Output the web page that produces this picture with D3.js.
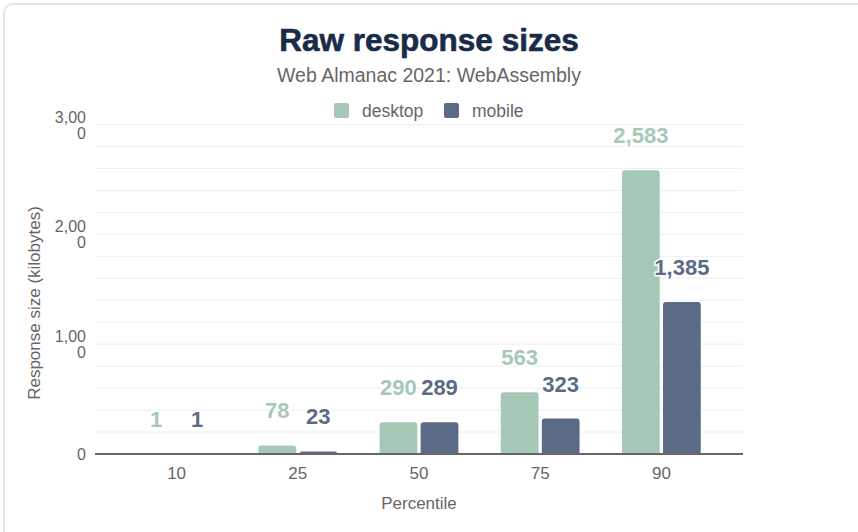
<!DOCTYPE html>
<html><head><meta charset="utf-8">
<script src="https://cdn.jsdelivr.net/npm/d3@7"></script>
<style>body{margin:0;background:#fff;}svg{display:block;font-family:"Liberation Sans",Arial,sans-serif;}</style>
</head><body>
<svg id="c" width="858" height="532"></svg>
<script>
const categories = ["10", "25", "50", "75", "90"];
const seriesNames = ["desktop", "mobile"];
const desktop = [1, 78, 290, 563, 2583];
const mobile = [1, 23, 289, 323, 1385];
const yTicks = [0, 1000, 2000, 3000];
const colors = {desktop: "#a5c8b7", mobile: "#5c6b85"};

const svg = d3.select("#c");
svg.append("rect").attr("x", 4).attr("y", 4).attr("width", 870).attr("height", 550)
  .attr("rx", 9).attr("fill", "#fff").attr("stroke", "#e4e4e4").attr("stroke-width", 2);

const pL = 95, pR = 743, pT = 124.5, pB = 454;
const x0 = d3.scaleBand().domain(categories).range([pL, pR]).paddingInner(0.35).paddingOuter(0.3485);
const x1 = d3.scaleBand().domain(seriesNames).range([0, x0.bandwidth()]).paddingInner(0.08);
const y = d3.scaleLinear().domain([0, 3000]).range([pB, pT]);

// title
svg.append("text").attr("x", 429).attr("y", 51).attr("text-anchor", "middle")
  .style("font-weight", "bold").style("font-size", "31.5px").attr("stroke", "#1a2b49").attr("stroke-width", 0.6)
  .attr("fill", "#1a2b49").text("Raw response sizes");
svg.append("text").attr("x", 429).attr("y", 82).attr("text-anchor", "middle")
  .style("font-size", "19.5px").attr("fill", "#666").text("Web Almanac 2021: WebAssembly");

// legend
const leg = [{k: "desktop", x: 334}, {k: "mobile", x: 444}];
leg.forEach(l => {
  svg.append("rect").attr("x", l.x).attr("y", 103).attr("width", 15).attr("height", 15).attr("rx", 2)
    .attr("fill", colors[l.k]);
  svg.append("text").attr("x", l.x + 28).attr("y", 116.5).style("font-size", "17.5px").attr("fill", "#666").text(l.k);
});

// grid
const grid = d3.range(0, 3001, 200);
svg.append("g").selectAll("line").data(grid.filter(d => d > 0)).join("line")
  .attr("x1", pL).attr("x2", pR).attr("y1", d => y(d)).attr("y2", d => y(d))
  .attr("stroke", "#eeeeee").attr("stroke-width", 1);

// y axis labels
const yAxis = d3.axisLeft(y).tickValues(yTicks).tickSize(0).tickFormat(d3.format(","));
const ya = svg.append("g").attr("transform", `translate(${pL - 9},0)`).call(yAxis);
ya.select(".domain").remove();
ya.selectAll("text").each(function(d) {
  const s = d3.format(",")(d);
  const t = d3.select(this).text(null).attr("x", 0).attr("dy", null)
    .style("font-size", "16px").attr("fill", "#666").style("font-family", "Liberation Sans, Arial, sans-serif");
  if (s.length > 4) {
    t.append("tspan").attr("x", 0).attr("y", -2.5).text(s.slice(0, 4));
    t.append("tspan").attr("x", 0).attr("y", 13.5).text(s.slice(4));
  } else {
    t.append("tspan").attr("x", 0).attr("y", 5.5).text(s);
  }
});
svg.append("text").attr("transform", "translate(40,303) rotate(-90)").attr("text-anchor", "middle")
  .style("font-size", "17px").attr("fill", "#666").text("Response size (kilobytes)");

// bars
const rows = categories.map((c, i) => ({c, vals: [{k: "desktop", v: desktop[i]}, {k: "mobile", v: mobile[i]}]}));
const groups = svg.append("g").selectAll("g").data(rows).join("g")
  .attr("transform", d => `translate(${x0(d.c)},0)`);
groups.selectAll("path").data(d => d.vals).join("path")
  .attr("fill", d => colors[d.k])
  .attr("d", d => {
    const x = x1(d.k), w = x1.bandwidth(), yt = y(d.v), h = pB - yt;
    const r = Math.min(3, h);
    return `M${x},${pB}V${yt + r}Q${x},${yt} ${x + r},${yt}H${x + w - r}Q${x + w},${yt} ${x + w},${yt + r}V${pB}Z`;
  });
groups.selectAll("text").data(d => d.vals).join("text")
  .attr("x", d => x1(d.k) + x1.bandwidth() / 2).attr("y", d => y(d.v) - 27)
  .attr("text-anchor", "middle").style("font-size", "22px").style("font-weight", "bold")
  .attr("fill", d => colors[d.k]).attr("stroke", "#fff").attr("stroke-width", 3)
  .attr("paint-order", "stroke").attr("stroke-linejoin", "round")
  .text(d => d3.format(",")(d.v));

// x axis
svg.append("line").attr("x1", pL).attr("x2", pR).attr("y1", pB).attr("y2", pB)
  .attr("stroke", "#666").attr("stroke-width", 2);
const xa = svg.append("g").attr("transform", `translate(0,${pB})`).call(d3.axisBottom(x0).tickSize(0));
xa.select(".domain").remove();
xa.selectAll("text").attr("dy", null).attr("y", 25).style("font-size", "17px").attr("fill", "#666")
  .style("font-family", "Liberation Sans, Arial, sans-serif");
svg.append("text").attr("x", 419).attr("y", 509).attr("text-anchor", "middle")
  .style("font-size", "17px").attr("fill", "#666").text("Percentile");
</script>
</body></html>
